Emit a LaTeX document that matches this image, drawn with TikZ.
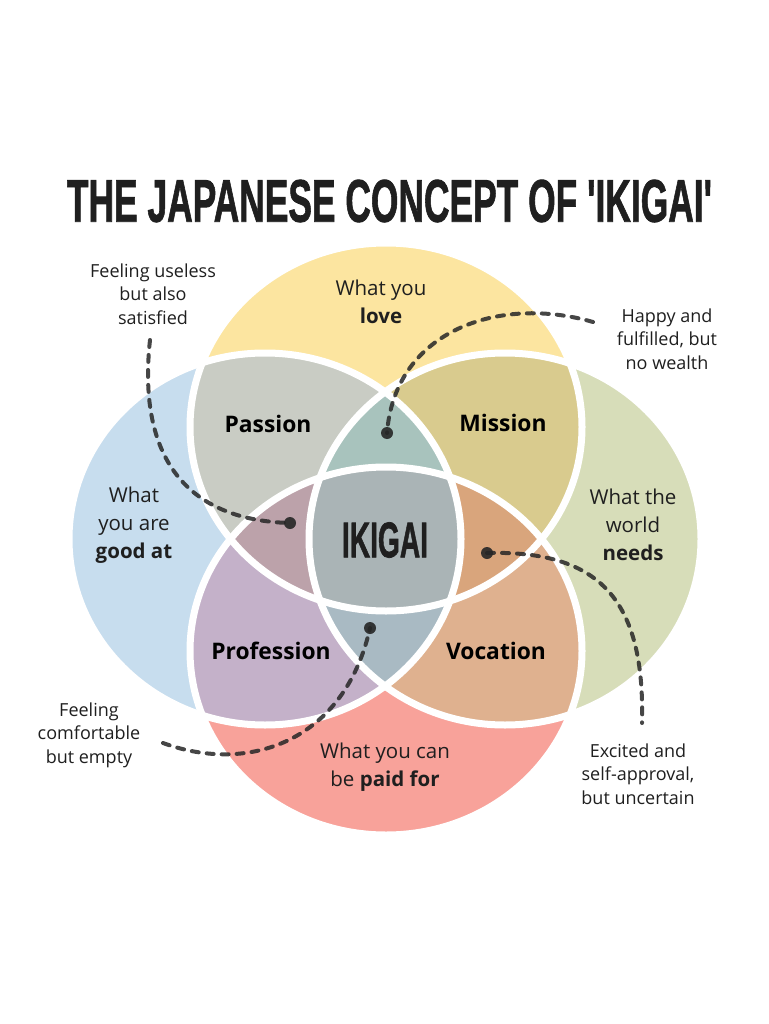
\documentclass[tikz,border=0pt]{standalone}
\usepackage{fontspec}
\setmainfont{Open Sans}
\newfontfamily\headfont{Liberation Sans}[Ligatures=TeXOff, FakeBold=1.5]
\usepackage{graphicx}
\usepackage{xcolor}
\usetikzlibrary{positioning}

\definecolor{loveC}{HTML}{FCE5A0}
\definecolor{goodC}{HTML}{C7DDEE}
\definecolor{worldC}{HTML}{D7DDB9}
\definecolor{paidC}{HTML}{F8A29A}
\definecolor{passionC}{HTML}{C9CCC4}
\definecolor{missionC}{HTML}{D9CB8E}
\definecolor{professionC}{HTML}{C4B1C9}
\definecolor{vocationC}{HTML}{DFB18F}
\definecolor{upperC}{HTML}{A8C3BD}
\definecolor{leftC}{HTML}{BCA2AA}
\definecolor{rightC}{HTML}{D9A57C}
\definecolor{lowerC}{HTML}{A9BAC3}
\definecolor{ikigaiC}{HTML}{AAB4B6}

% the four circles (slightly flattened, as in the poster)
\def\ellTop{(386,427) ellipse [x radius=196pt, y radius=184pt]}
\def\ellBot{(386,651) ellipse [x radius=196pt, y radius=184pt]}
\def\ellLeft{(265,539) ellipse [x radius=196pt, y radius=186pt]}
\def\ellRight{(505,539) ellipse [x radius=196pt, y radius=186pt]}

\begin{document}
\begin{tikzpicture}[
    x=1pt, y=-1pt,
    every node/.style = {font=\fontsize{20.5}{28}\selectfont, text=black!88,
                          align=center, inner sep=0pt},
    note/.style       = {font=\fontsize{18}{23.5}\selectfont},
    area/.style       = {font=\fontsize{22.8}{26}\selectfont\bfseries, text=black},
    dot/.style        = {circle, fill=black!85, opacity=0.9, minimum size=12pt, inner sep=0pt},
    dashline/.style   = {line width=4pt, draw=black!85, opacity=0.85, line cap=round,
                          dash pattern=on 7pt off 8pt},
    ring/.style       = {draw=white, line width=7pt},
]
\useasboundingbox (0,0) rectangle (768,1024);
\fill[white] (0,0) rectangle (768,1024);

\node (title) at (389.5,201)
    {\resizebox{645pt}{42pt}{\headfont\bfseries THE JAPANESE CONCEPT OF 'IKIGAI'}};

% Single circles
\fill[loveC] \ellTop;
\fill[paidC] \ellBot;
\fill[goodC] \ellLeft;
\fill[worldC] \ellRight;

% Pairs
\begin{scope} \clip \ellTop; \fill[passionC] \ellLeft; \fill[missionC] \ellRight; \end{scope}
\begin{scope} \clip \ellBot; \fill[professionC] \ellLeft; \fill[vocationC] \ellRight; \end{scope}

% Triples and the middle
\begin{scope} \clip \ellLeft; \clip \ellRight; \fill[upperC] \ellTop; \fill[lowerC] \ellBot; \end{scope}
\begin{scope} \clip \ellTop; \clip \ellBot; \fill[leftC] \ellLeft; \fill[rightC] \ellRight; \end{scope}
\begin{scope} \clip \ellTop; \clip \ellBot; \clip \ellLeft; \fill[ikigaiC] \ellRight; \end{scope}

% White rims
\draw[ring] \ellTop;
\draw[ring] \ellBot;
\draw[ring] \ellLeft;
\draw[ring] \ellRight;

% Circle labels
\node (love)   at (381,302) {What you\\\textbf{love}};
\node (good)   at (134,525) {What\\you are\\\textbf{good at}};
\node (needs)  at (633,525) {What the\\world\\\textbf{needs}};
\node (paid)   at (385,767) {What you can\\be \textbf{paid for}};

\node[area] (passion)    at (268,424) {Passion};
\node[area] (mission)    at (503,423) {Mission};
\node[area] (profession) at (271,651) {Profession};
\node[area] (vocation)   at (496,651) {Vocation};
\node (ikigai) at (385,540) {\resizebox{86pt}{35pt}{\headfont\bfseries IKIGAI}};

% Side notes
\node[note] (useless) at (153,294) {Feeling useless\\but also\\satisfied};
\node[note] (happy)   at (667,339) {Happy and\\fulfilled, but\\no wealth};
\node[note] (empty)   at (89,735)  {Feeling\\comfortable\\but empty};
\node[note] (excited) at (638,774) {Excited and\\self-approval,\\but uncertain};

% Dots and dashed leaders
\node[dot] (dotLeft)  at (290,523) {};
\node[dot] (dotUpper) at (387,433) {};
\node[dot] (dotLower) at (370,628) {};
\node[dot] (dotRight) at (487,553) {};

\coordinate (uselessTip) at (150,340);
\coordinate (happyTip)   at (593,322);
\coordinate (emptyTip)   at (163,743);
\coordinate (excitedTip) at (642,723);

\draw[dashline] (uselessTip) .. controls (138,450) and (180,520) .. (dotLeft.center);
\draw[dashline] (happyTip) .. controls (500,295) and (395,330) .. (dotUpper.center);
\draw[dashline] (emptyTip) .. controls (250,775) and (345,740) .. (dotLower.center);
\draw[dashline] (dotRight.center) .. controls (600,550) and (645,600) .. (excitedTip);

\end{tikzpicture}
\end{document}
